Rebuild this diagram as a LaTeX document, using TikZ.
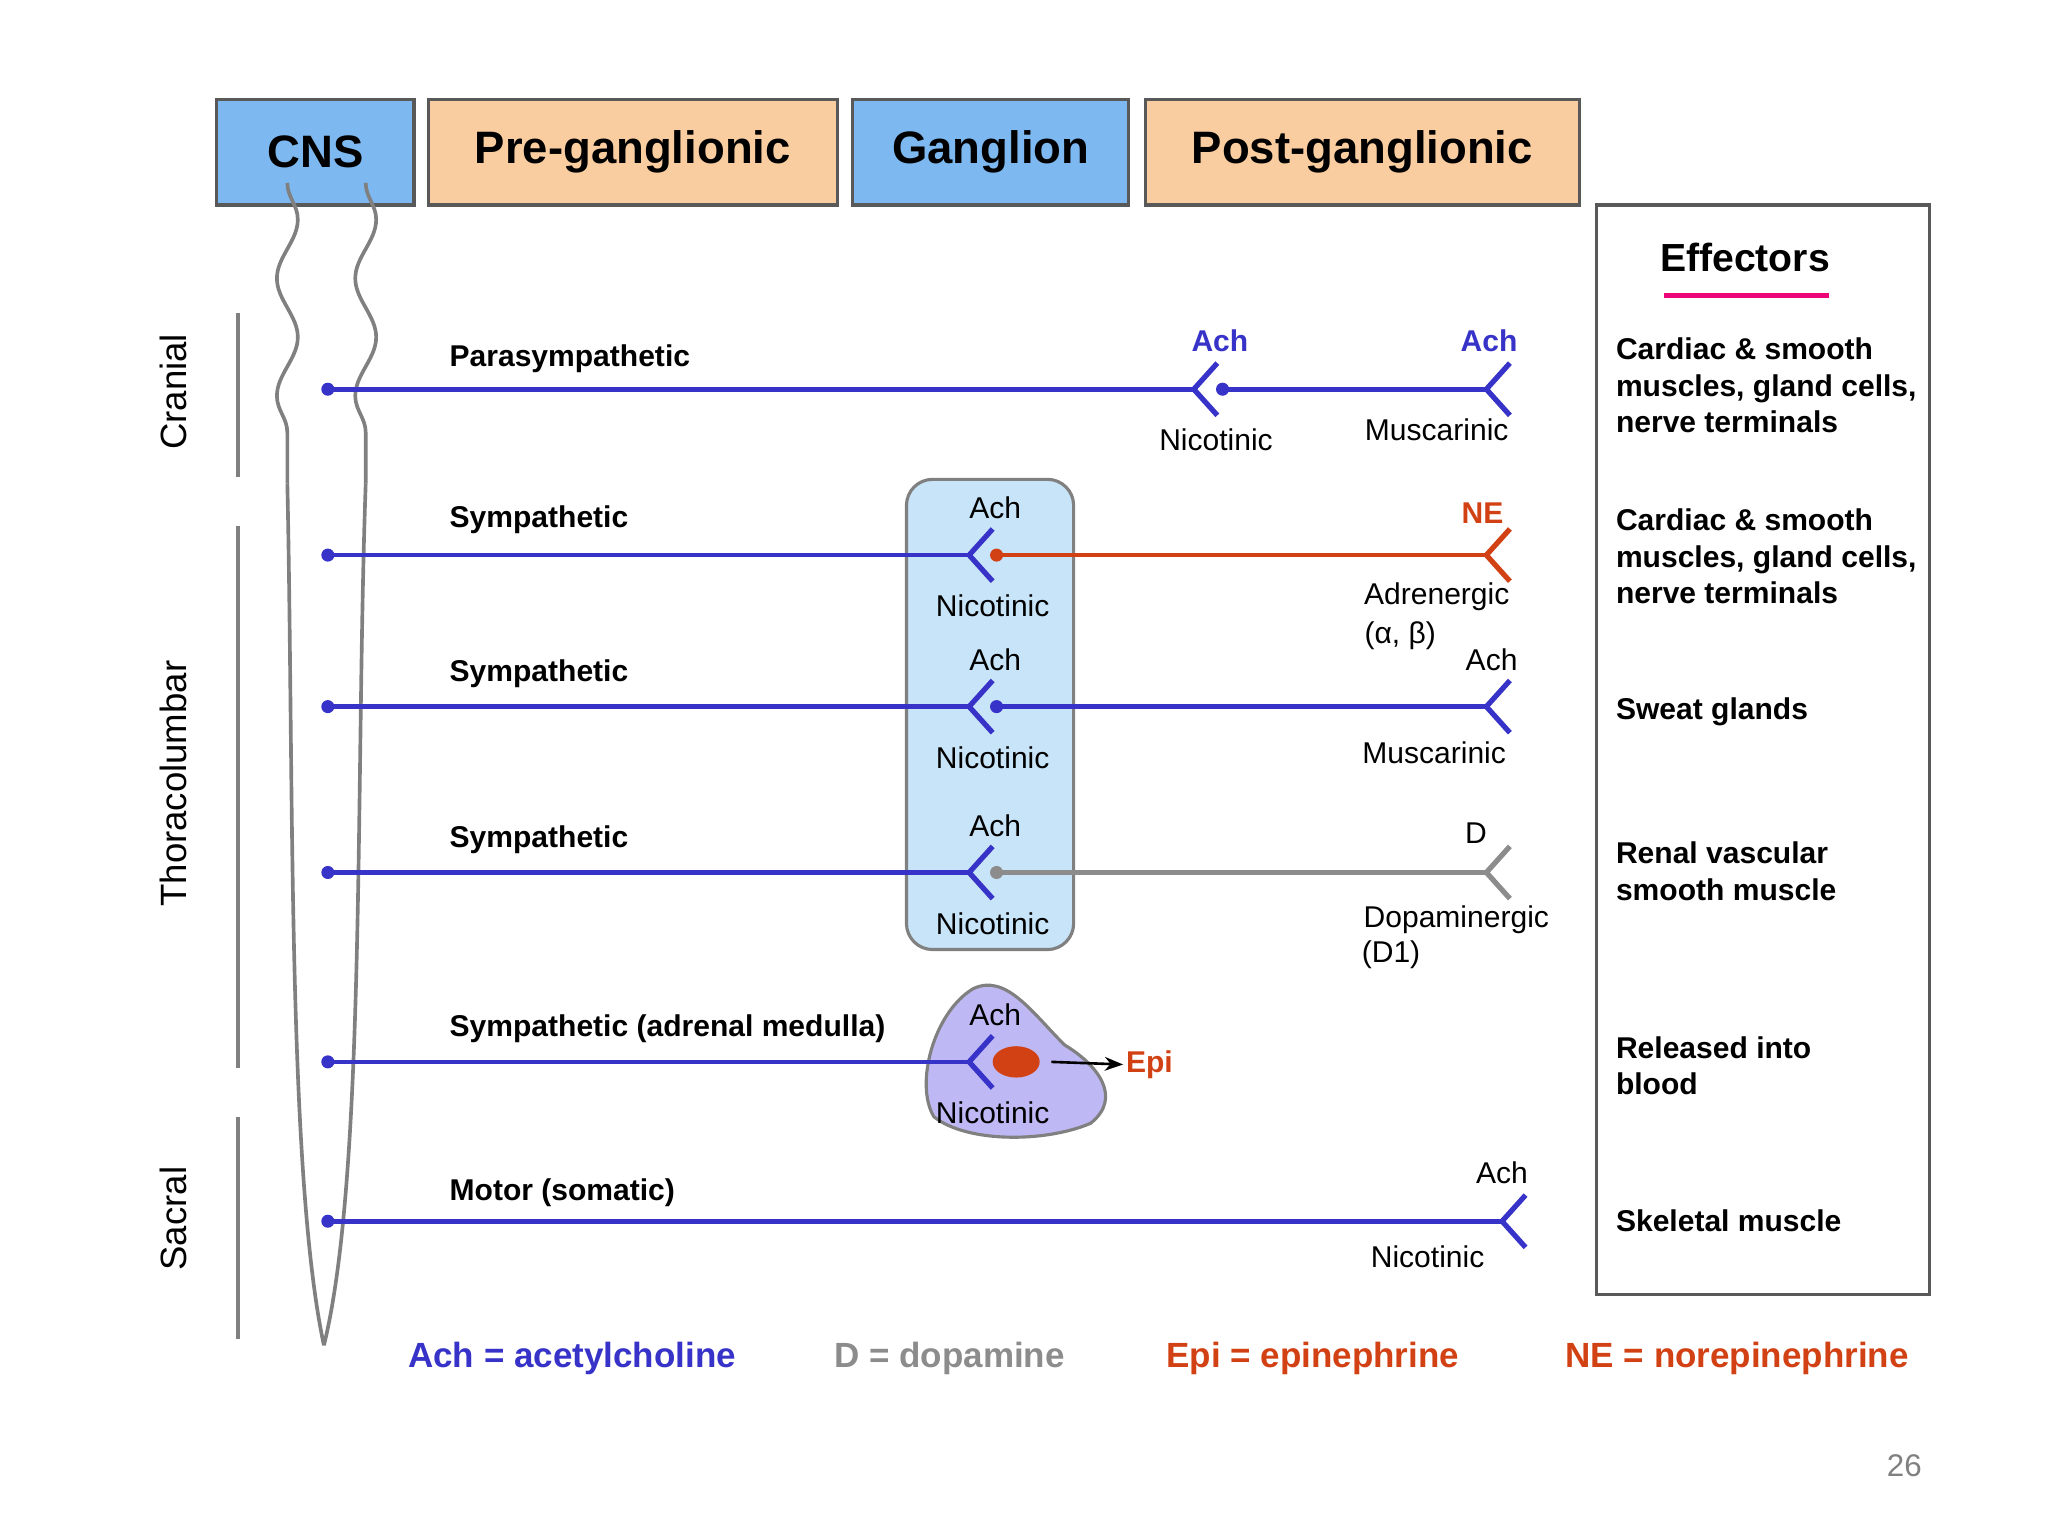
\documentclass[tikz,border=0pt]{standalone}
\usepackage{fontspec}
\setmainfont{Liberation Sans}
\usetikzlibrary{decorations.pathmorphing,arrows.meta,shapes.geometric}
\definecolor{myblue}{RGB}{55, 50, 200}
\definecolor{myred}{RGB}{210, 65, 20}
\definecolor{mygray}{RGB}{140, 140, 140}
\definecolor{hdrblue}{RGB}{125, 185, 240}
\definecolor{hdrorange}{RGB}{250, 205, 160}
\definecolor{gangfill}{RGB}{200, 228, 248}
\definecolor{medfill}{RGB}{190, 185, 245}
\tikzset{every picture/.style={line width=0.75pt}}
\tikzset{
  hdr/.style={draw=gray!70!black, line width=1.2pt, font=\fontsize{17.4}{19}\selectfont\bfseries, inner sep=0pt},
  lbl/.style={anchor=west, font=\fontsize{11.5}{13}\selectfont\bfseries, inner sep=0.75pt},
  rcp/.style={font=\fontsize{11.5}{13}\selectfont, inner sep=0.75pt},
  eff/.style={anchor=west, align=left, font=\fontsize{11.5}{14}\selectfont\bfseries, inner sep=0.75pt},
  leg/.style={font=\fontsize{13.4}{15}\selectfont\bfseries, inner sep=0.75pt},
  side/.style={rotate=90, font=\fontsize{14}{16}\selectfont, inner sep=0.75pt},
  nerve/.style={line width=1.8pt},
  fork/.style={line width=2pt},
}
\newcommand{\synfork}[3]{\draw[fork,#3] (#1+18,#2-20) -- (#1,#2) -- (#1+18,#2+20);}
\begin{document}
\begin{tikzpicture}[x=0.5pt,y=0.5pt,yscale=-1,xscale=1]
\useasboundingbox (0,0) rectangle (1568,1176);

% Header boxes
\node[hdr, fill=hdrblue, minimum width=75.5pt, minimum height=40.5pt] (cns) at (241.5,116.5) {CNS};
\node[hdr, fill=hdrorange, minimum width=156.5pt, minimum height=40.5pt] (pre) at (484.5,116.5) {Pre-ganglionic};
\node[hdr, fill=hdrblue, minimum width=105.5pt, minimum height=40.5pt] (gang) at (758.5,116.5) {Ganglion};
\node[hdr, fill=hdrorange, minimum width=166pt, minimum height=40.5pt] (post) at (1043,116.5) {Post-ganglionic};

% Effectors box
\draw[gray!70!black, line width=1.2pt] (1222,157) rectangle (1477,991);
\node[font=\fontsize{15}{17}\selectfont\bfseries] (efft) at (1336,197) {Effectors};
\draw[magenta!80!red, line width=2pt] (1274,226) -- (1400,226);

% Ganglion box and adrenal medulla
\draw[gray, fill=gangfill, line width=1.2pt, rounded corners=10pt] (694,367) rectangle (822,727);
\draw[gray, fill=medfill, line width=1.2pt] (745,757) .. controls (770,745) and (790,775) .. (815,800) .. controls (840,815) and (860,840) .. (835,860) .. controls (800,875) and (740,875) .. (715,855) .. controls (700,830) and (715,775) .. (745,757);

% Spinal cord
\draw[gray, line width=1.4pt, decorate, decoration={snake, amplitude=4pt, segment length=45pt}] (220,140) -- (220,370);
\draw[gray, line width=1.4pt] (220,370) .. controls (225,600) and (220,900) .. (248,1030);
\draw[gray, line width=1.4pt, decorate, decoration={snake, amplitude=4pt, segment length=45pt}] (280,140) -- (280,370);
\draw[gray, line width=1.4pt] (280,370) .. controls (272,600) and (280,900) .. (248,1030);

% Side labels
\node[side] (cran) at (133,300) {Cranial};
\draw[gray, line width=1.4pt] (182,240) -- (182,365);
\node[side] (thor) at (133,600) {Thoracolumbar};
\draw[gray, line width=1.4pt] (182,403) -- (182,818);
\node[side] (sacr) at (133,933) {Sacral};
\draw[gray, line width=1.4pt] (182,855) -- (182,1025);

% Row 1: parasympathetic
\coordinate (a0) at (251,298); \coordinate (a1) at (914,298);
\coordinate (a2) at (936,298); \coordinate (a3) at (1138,298);
\draw[nerve, myblue] (a0) -- (a1);
\draw[nerve, myblue] (a2) -- (a3);
\fill[myblue] (a0) circle (5); \fill[myblue] (a2) circle (5);
\synfork{914}{298}{myblue}
\synfork{1138}{298}{myblue}
\node[lbl] (l1) at (342,275) {Parasympathetic};
\node[rcp, font=\fontsize{11.5}{13}\selectfont\bfseries, text=myblue] (r1a) at (934,261) {Ach};
\node[rcp] (r1b) at (931,337) {Nicotinic};
\node[rcp, font=\fontsize{11.5}{13}\selectfont\bfseries, text=myblue] (r1c) at (1140,261) {Ach};
\node[rcp] (r1d) at (1100,329) {Muscarinic};

% Row 2: sympathetic, adrenergic
\coordinate (b0) at (251,425); \coordinate (b1) at (742,425);
\coordinate (b2) at (763,425); \coordinate (b3) at (1138,425);
\draw[nerve, myblue] (b0) -- (b1);
\draw[nerve, myred] (b2) -- (b3);
\fill[myblue] (b0) circle (5); \fill[myred] (b2) circle (5);
\synfork{742}{425}{myblue}
\synfork{1138}{425}{myred}
\node[lbl] (l2) at (342,398) {Sympathetic};
\node[rcp] (r2a) at (762,389) {Ach};
\node[rcp] (r2b) at (760,464) {Nicotinic};
\node[rcp, font=\fontsize{11.5}{13}\selectfont\bfseries, text=myred] (r2c) at (1135,393) {NE};
\node[rcp] (r2d) at (1100,457) {Adrenergic};
\node[rcp] (r2e) at (1072,487) {(α, β)};

% Row 3: sympathetic, muscarinic
\coordinate (c0) at (251,541); \coordinate (c1) at (742,541);
\coordinate (c2) at (763,541); \coordinate (c3) at (1138,541);
\draw[nerve, myblue] (c0) -- (c1);
\draw[nerve, myblue] (c2) -- (c3);
\fill[myblue] (c0) circle (5); \fill[myblue] (c2) circle (5);
\synfork{742}{541}{myblue}
\synfork{1138}{541}{myblue}
\node[lbl] (l3) at (342,516) {Sympathetic};
\node[rcp] (r3a) at (762,505) {Ach};
\node[rcp] (r3b) at (760,580) {Nicotinic};
\node[rcp] (r3c) at (1142,505) {Ach};
\node[rcp] (r3d) at (1098,576) {Muscarinic};

% Row 4: sympathetic, dopaminergic
\coordinate (d0) at (251,668); \coordinate (d1) at (742,668);
\coordinate (d2) at (763,668); \coordinate (d3) at (1138,668);
\draw[nerve, myblue] (d0) -- (d1);
\draw[nerve, mygray] (d2) -- (d3);
\fill[myblue] (d0) circle (5); \fill[mygray] (d2) circle (5);
\synfork{742}{668}{myblue}
\synfork{1138}{668}{mygray}
\node[lbl] (l4) at (342,643) {Sympathetic};
\node[rcp] (r4a) at (762,632) {Ach};
\node[rcp] (r4b) at (760,707) {Nicotinic};
\node[rcp] (r4c) at (1130,638) {D};
\node[rcp] (r4d) at (1115,704) {Dopaminergic};
\node[rcp] (r4e) at (1065,731) {(D1)};

% Row 5: adrenal medulla
\coordinate (e0) at (251,813); \coordinate (e1) at (742,813);
\draw[nerve, myblue] (e0) -- (e1);
\fill[myblue] (e0) circle (5);
\synfork{742}{813}{myblue}
\node[fill=myred, ellipse, minimum width=18pt, minimum height=12pt, inner sep=0pt] (cell) at (778,813) {};
\node[rcp, font=\fontsize{11.5}{13}\selectfont\bfseries, text=myred] (epi) at (880,815) {Epi};
\coordinate (arr) at (805,813);
\draw[-{Stealth[length=7pt]}, line width=1pt] (arr) -- (epi.west);
\node[lbl] (l5) at (342,788) {Sympathetic (adrenal medulla)};
\node[rcp] (r5a) at (762,777) {Ach};
\node[rcp] (r5b) at (760,852) {Nicotinic};

% Row 6: motor
\coordinate (f0) at (251,935); \coordinate (f1) at (1150,935);
\draw[nerve, myblue] (f0) -- (f1);
\fill[myblue] (f0) circle (5);
\synfork{1150}{935}{myblue}
\node[lbl] (l6) at (342,913) {Motor (somatic)};
\node[rcp] (r6a) at (1150,898) {Ach};
\node[rcp] (r6b) at (1093,962) {Nicotinic};

% Effectors
\node[eff] (e1t) at (1235,295) {Cardiac \& smooth\\muscles, gland cells,\\nerve terminals};
\node[eff] (e2t) at (1235,426) {Cardiac \& smooth\\muscles, gland cells,\\nerve terminals};
\node[eff] (e3t) at (1235,545) {Sweat glands};
\node[eff] (e4t) at (1235,667) {Renal vascular\\smooth muscle};
\node[eff] (e5t) at (1235,816) {Released into\\blood};
\node[eff] (e6t) at (1235,935) {Skeletal muscle};

% Legend
\node[leg, text=myblue] (lg1) at (438,1040) {Ach = acetylcholine};
\node[leg, text=mygray] (lg2) at (727,1040) {D = dopamine};
\node[leg, text=myred] (lg3) at (1005,1040) {Epi = epinephrine};
\node[leg, text=myred] (lg4) at (1330,1040) {NE = norepinephrine};
\node[font=\fontsize{12}{14}\selectfont, text=gray] (pg) at (1458,1122) {26};

\end{tikzpicture}
\end{document}
